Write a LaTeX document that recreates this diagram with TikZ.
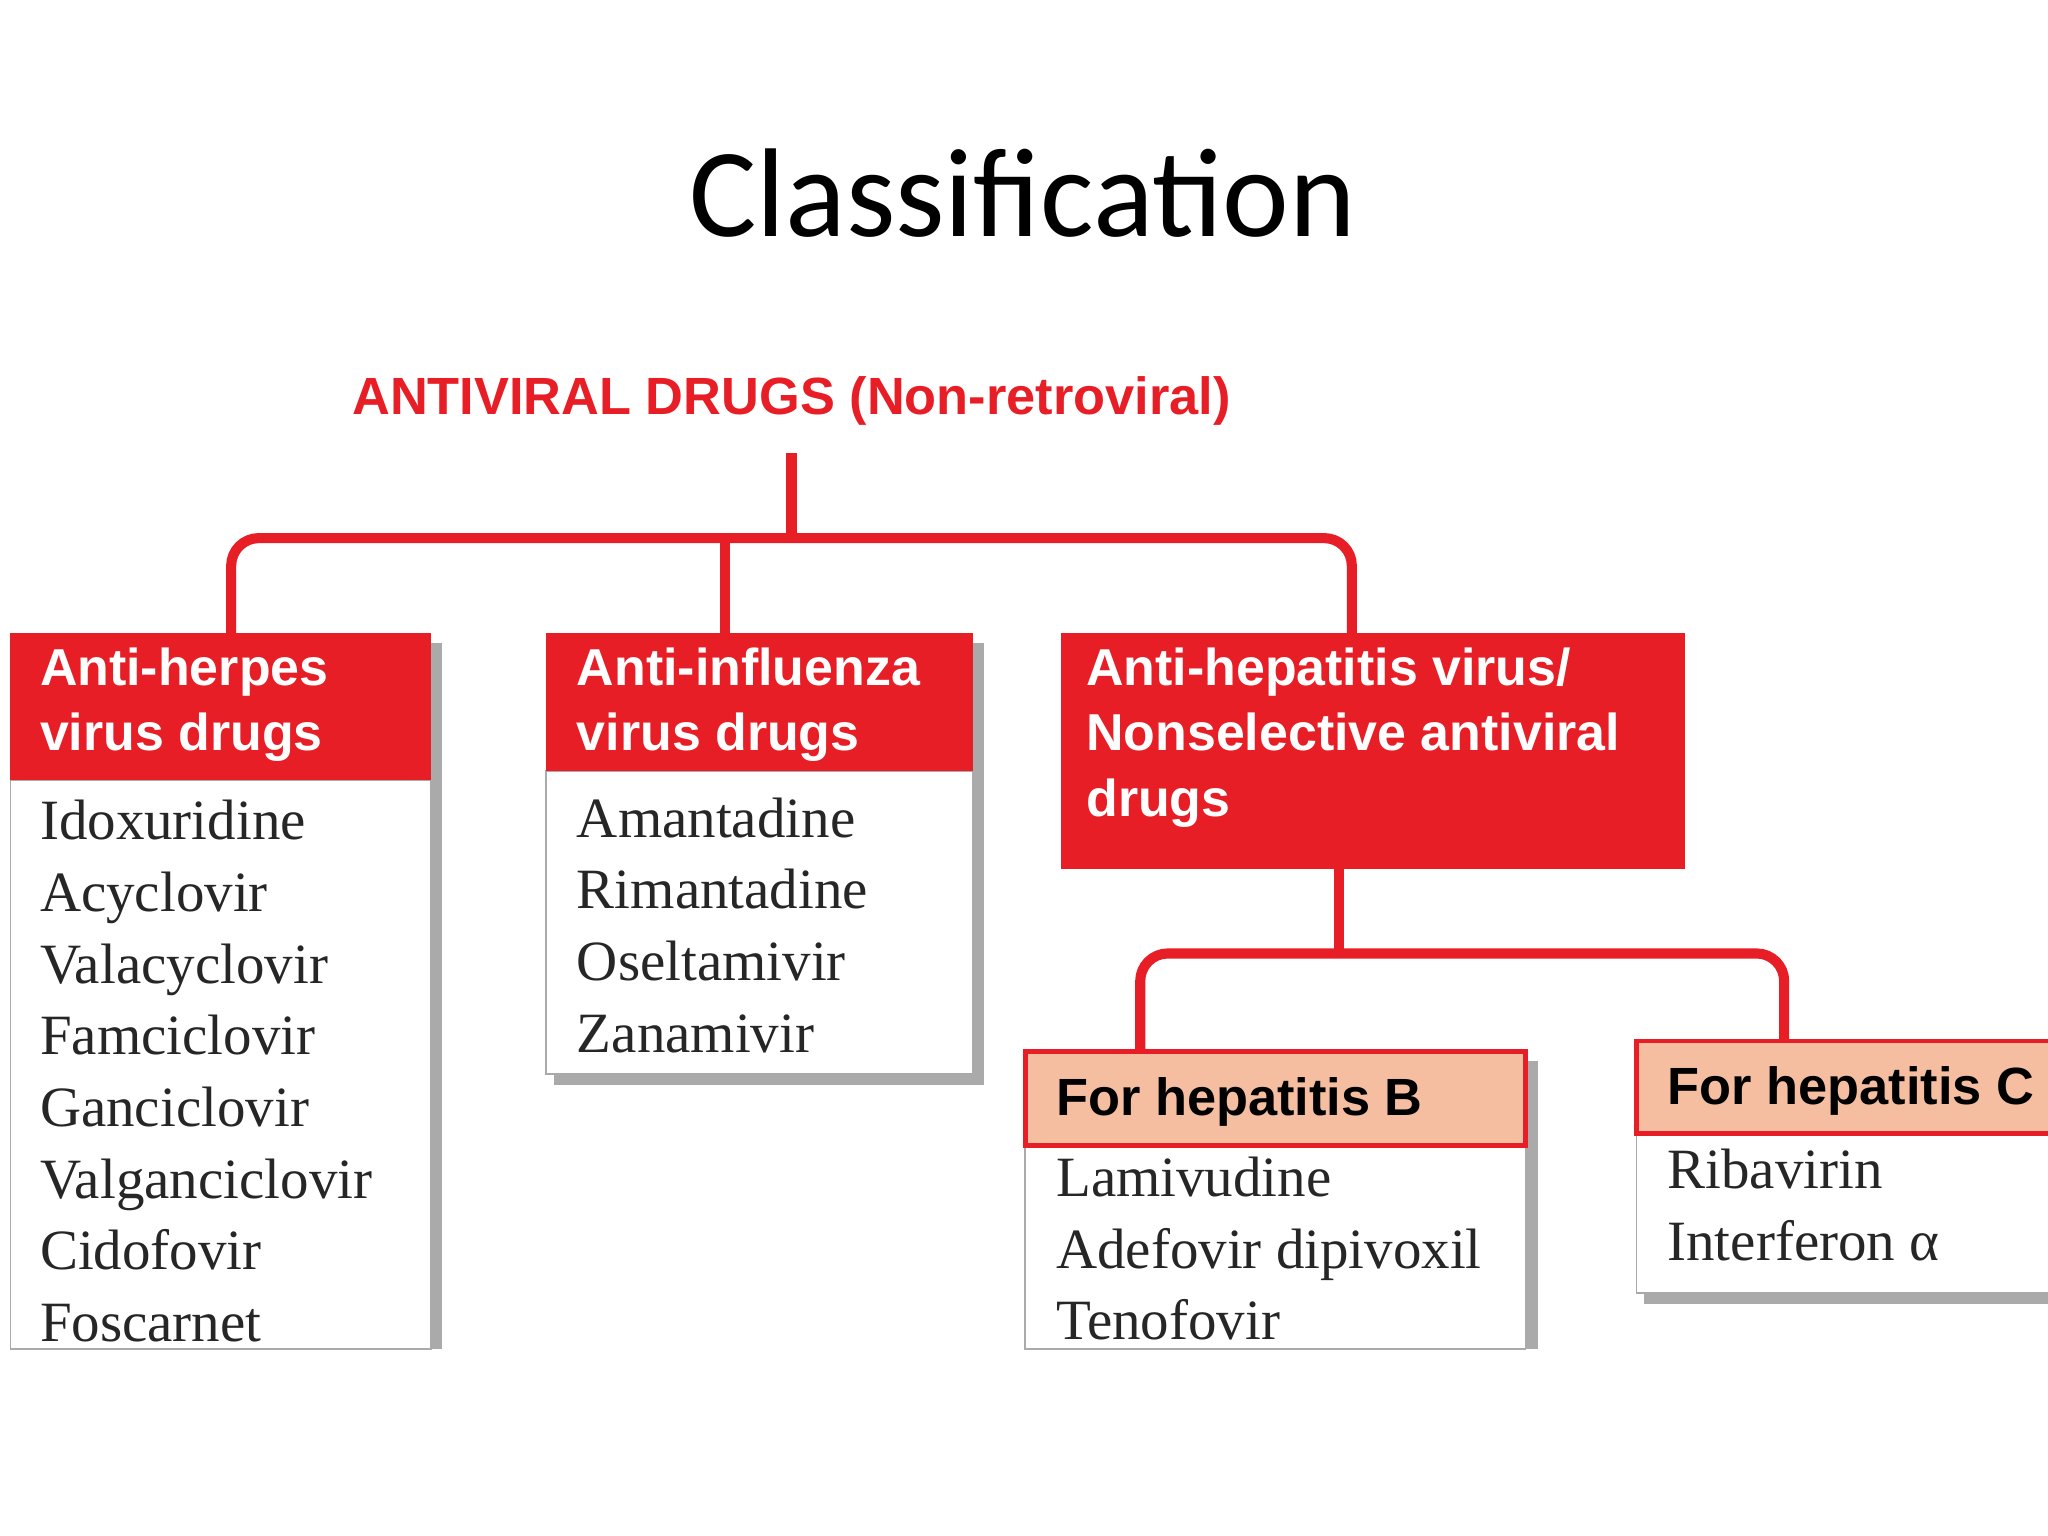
\documentclass[tikz,border=0pt]{standalone}
\usepackage{fontspec}
\setmainfont{Liberation Serif}
\newfontfamily\hdr{Liberation Sans}
\newfontfamily\ttl{Carlito}
\definecolor{rd}{RGB}{232,30,38}
\definecolor{salm}{RGB}{246,190,160}
\definecolor{shd}{RGB}{170,170,170}
\begin{document}
\begin{tikzpicture}[x=0.01cm,y=-0.01cm,
  conn/.style={draw=rd,line width=2.2pt,rounded corners=6pt},
  hd/.style={anchor=north west,align=left,text=white,font=\hdr\bfseries\fontsize{11.3}{14.3}\selectfont,inner sep=0pt},
  hdk/.style={anchor=north west,align=left,text=black,font=\hdr\bfseries\fontsize{11.4}{14.3}\selectfont,inner sep=0pt},
  it/.style={anchor=north west,align=left,font=\fontsize{12.4}{15.6}\selectfont,inner sep=0pt,text=black!85},
  shadow/.style={draw=shd,line width=2.5pt}]
\useasboundingbox (0,0) rectangle (1568,1176);
\node[font=\ttl\fontsize{27.5}{33}\selectfont] (title) at (783,148) {Classification};
\node[font=\hdr\bfseries\fontsize{11.4}{14}\selectfont,text=rd] (root) at (606,307) {ANTIVIRAL DRUGS (Non-retroviral)};
% box1
\draw[shadow] (334,492)--(334,1033);
\draw[fill=white,draw=shd,line width=0.4pt] (8,597) rectangle (330,1033);
\fill[rd] (8,485) rectangle (330,597);
\node[hd] (h1) at (30,495) {Anti-herpes\\virus drugs};
\node[it] (l1) at (30,612) {Idoxuridine\\Acyclovir\\Valacyclovir\\Famciclovir\\Ganciclovir\\Valganciclovir\\Cidofovir\\Foscarnet};
\coordinate (b1) at (177,485);
% box2
\draw[shadow] (749,492)--(749,826)--(424,826);
\draw[fill=white,draw=shd,line width=0.4pt] (418,590) rectangle (745,822);
\fill[rd] (418,485) rectangle (745,590);
\node[hd] (h2) at (441,495) {Anti-influenza\\virus drugs};
\node[it] (l2) at (441,610) {Amantadine\\Rimantadine\\Oseltamivir\\Zanamivir};
\coordinate (b2) at (555,485);
% box3
\fill[rd] (812,485) rectangle (1290,665);
\node[hd] (h3) at (831,495) {Anti-hepatitis virus/\\Nonselective antiviral\\drugs};
\coordinate (b3) at (1035,485);
% box4
\draw[shadow] (1173,812)--(1173,1033);
\draw[fill=white,draw=shd,line width=0.4pt] (785,877) rectangle (1168,1033);
\draw[fill=salm,draw=rd,line width=1pt] (785,805) rectangle (1168,877);
\node[hdk] (h4) at (808,824) {For hepatitis B};
\node[it] (l4) at (808,885) {Lamivudine\\Adefovir dipivoxil\\Tenofovir};
% box5
\draw[shadow] (1259,994)--(1568,994);
\draw[fill=white,draw=shd,line width=0.4pt] (1253,868) rectangle (1580,990);
\draw[fill=salm,draw=rd,line width=1pt] (1253,797) rectangle (1580,868);
\node[hdk] (h5) at (1276,816) {For hepatitis C};
\node[it] (l5) at (1276,879) {Ribavirin\\Interferon α};
% connectors
\coordinate (r0) at (606,347);
\draw[conn] (r0)--(606,412);
\draw[conn] (b1)--(177,412)--(1035,412)--(b3);
\draw[conn] (b2)--(555,412);
\draw[conn] (1025,665)--(1025,730);
\draw[conn] (873,805)--(873,730)--(1366,730)--(1366,797);
\end{tikzpicture}
\end{document}
